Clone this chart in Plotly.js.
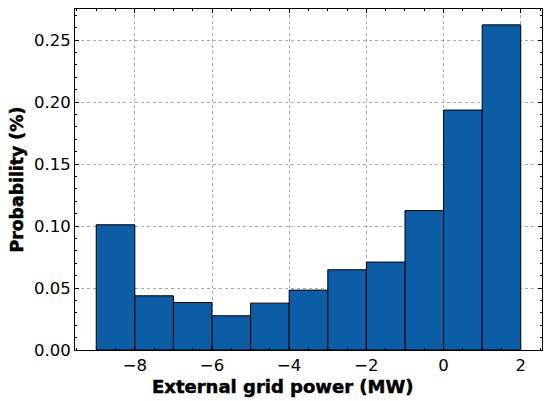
<!DOCTYPE html>
<html><head><meta charset="utf-8">
<script src="https://cdn.plot.ly/plotly-3.0.1.min.js"></script>
<style>html,body{margin:0;padding:0;background:#fff}#c{width:550px;height:401px}
.ytitle,.annotation-text{stroke:#000;stroke-width:0.5px}
</style>
</head><body><div id="c"></div>
<script>
const binStarts = [-9, -8, -7, -6, -5, -4, -3, -2, -1, 0, 1];
const probability = [0.101, 0.0437, 0.0383, 0.0276, 0.0378, 0.0483, 0.0647, 0.0709, 0.1124, 0.1935, 0.2622];
const binWidth = 1;
const xTicks = [-8, -6, -4, -2, 0, 2];
const yTicks = [0, 0.05, 0.10, 0.15, 0.20, 0.25];
const xTitle = 'External grid power (MW)';
const yTitle = 'Probability (%)';

const xCenters = binStarts.map(b => b + binWidth / 2);
const trace = {
  type: 'bar', x: xCenters, y: probability, width: binWidth,
  marker: {color: '#0C5DA5', line: {color: '#000', width: 1}},
  hoverinfo: 'skip'
};
const font = {family: 'DejaVu Sans', size: 16.5, color: '#000'};
const common = {
  showline: true, linecolor: '#000', linewidth: 1, mirror: 'allticks',
  ticks: 'inside', ticklen: 4, tickwidth: 1, tickcolor: '#000',
  showgrid: true, gridcolor: '#888', griddash: 'dot', gridwidth: 0.7,
  zeroline: false, tickfont: font
};
const layout = {
  width: 550, height: 401,
  margin: {l: 75, r: 8, t: 9, b: 51},
  paper_bgcolor: '#fff', plot_bgcolor: '#fff',
  showlegend: false, bargap: 0,
  xaxis: Object.assign({}, common, {
    range: [-9.55, 2.55], tickmode: 'array', tickvals: xTicks,
    ticktext: xTicks.map(v => v < 0 ? '\u2212' + Math.abs(v) : String(v)),
    minor: {ticks: 'inside', ticklen: 2, tickwidth: 1, tickcolor: '#000', dtick: 0.5, tick0: 0, showgrid: false}
  }),
  yaxis: Object.assign({}, common, {
    range: [0, 0.275], tickmode: 'array', tickvals: yTicks,
    ticktext: yTicks.map(v => v.toFixed(2)),
    minor: {ticks: 'inside', ticklen: 2, tickwidth: 1, tickcolor: '#000', dtick: 0.01, tick0: 0, showgrid: false},
    title: {text: '<b>' + yTitle + '</b>', font: {family: 'DejaVu Sans', size: 17.3, color: '#000'}, standoff: 5}
  }),
  annotations: [{
    text: '<b>' + xTitle + '</b>', showarrow: false,
    xref: 'paper', yref: 'paper', x: 0.445, y: -0.106,
    xanchor: 'center', yanchor: 'middle',
    font: {family: 'DejaVu Sans', size: 18, color: '#000'}
  }]
};
Plotly.newPlot('c', [trace], layout, {staticPlot: true, displayModeBar: false});
</script></body></html>
